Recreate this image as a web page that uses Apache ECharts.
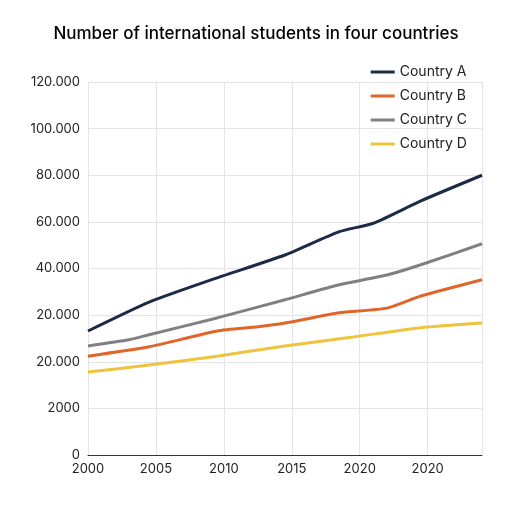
<!DOCTYPE html><html><head><meta charset="utf-8">
<script src="https://cdn.jsdelivr.net/npm/echarts@6/dist/echarts.min.js"></script>
<style>html,body{margin:0;background:#fff}#c{width:512px;height:512px}</style></head><body><div id="c"></div>
<script>
const xTickLabels = ['2000','2005','2010','2015','2020','2020'];
const yTickLabels = ['0','2000','20.000','20.000','40.000','60.000','80.000','100.000','120.000'];
const xA = [0,0.9,1.9,2.9,3.7,4.2,4.9,5.8];
const countryA = [2.66,3.28,3.8,4.29,4.79,4.97,5.45,6.0];
const xB = [0,0.9,1.9,2.5,2.9,3.7,4.4,4.9,5.8];
const countryB = [2.12,2.32,2.66,2.75,2.83,3.05,3.15,3.41,3.76];
const xC = [0,0.6,0.9,1.9,2.9,3.7,4.4,4.9,5.8];
const countryC = [2.34,2.47,2.58,2.94,3.33,3.65,3.86,4.08,4.53];
const xD = [0,0.9,1.9,2.9,3.9,4.9,5.8];
const countryD = [1.78,1.93,2.12,2.34,2.53,2.73,2.83];
const names = ['Country A','Country B','Country C','Country D'];
const colors = ['#1b2a47','#e0652a','#808080','#eec43c'];
const xs=[xA,xB,xC,xD], ys=[countryA,countryB,countryC,countryD];
const chart = echarts.init(document.getElementById('c'));
chart.setOption({
  animation:false,
  title:{text:'Number of international students in four countries',left:'center',top:20,textStyle:{fontSize:17,fontWeight:500,color:'#000',fontFamily:'Inter'}},
  legend:{orient:'vertical',right:40,top:60,itemWidth:24,itemHeight:3,itemGap:10,icon:'rect',textStyle:{fontSize:14,color:'#222',fontFamily:'Inter'},data:names},
  grid:{left:88,right:30,top:82,bottom:57},
  xAxis:{type:'value',min:0,max:5.8,interval:1,axisLine:{lineStyle:{color:'#333'}},axisTick:{show:false},
    splitLine:{show:true,lineStyle:{color:'#e4e4e4'}},
    axisLabel:{color:'#222',fontSize:13,fontFamily:'Inter',formatter:v=>xTickLabels[Math.round(v)]??'',showMaxLabel:false}},
  yAxis:{type:'value',min:0,max:8,interval:1,axisLine:{show:false},axisTick:{show:false},
    splitLine:{lineStyle:{color:'#e4e4e4'}},
    axisLabel:{color:'#222',fontSize:13,fontFamily:'Inter',formatter:v=>yTickLabels[Math.round(v)]}},
  series:names.map((n,i)=>({name:n,type:'line',smooth:0.2,symbol:'none',color:colors[i],lineStyle:{width:3,color:colors[i]},
    data:xs[i].map((x,j)=>[x,ys[i][j]])}))
});
</script></body></html>
